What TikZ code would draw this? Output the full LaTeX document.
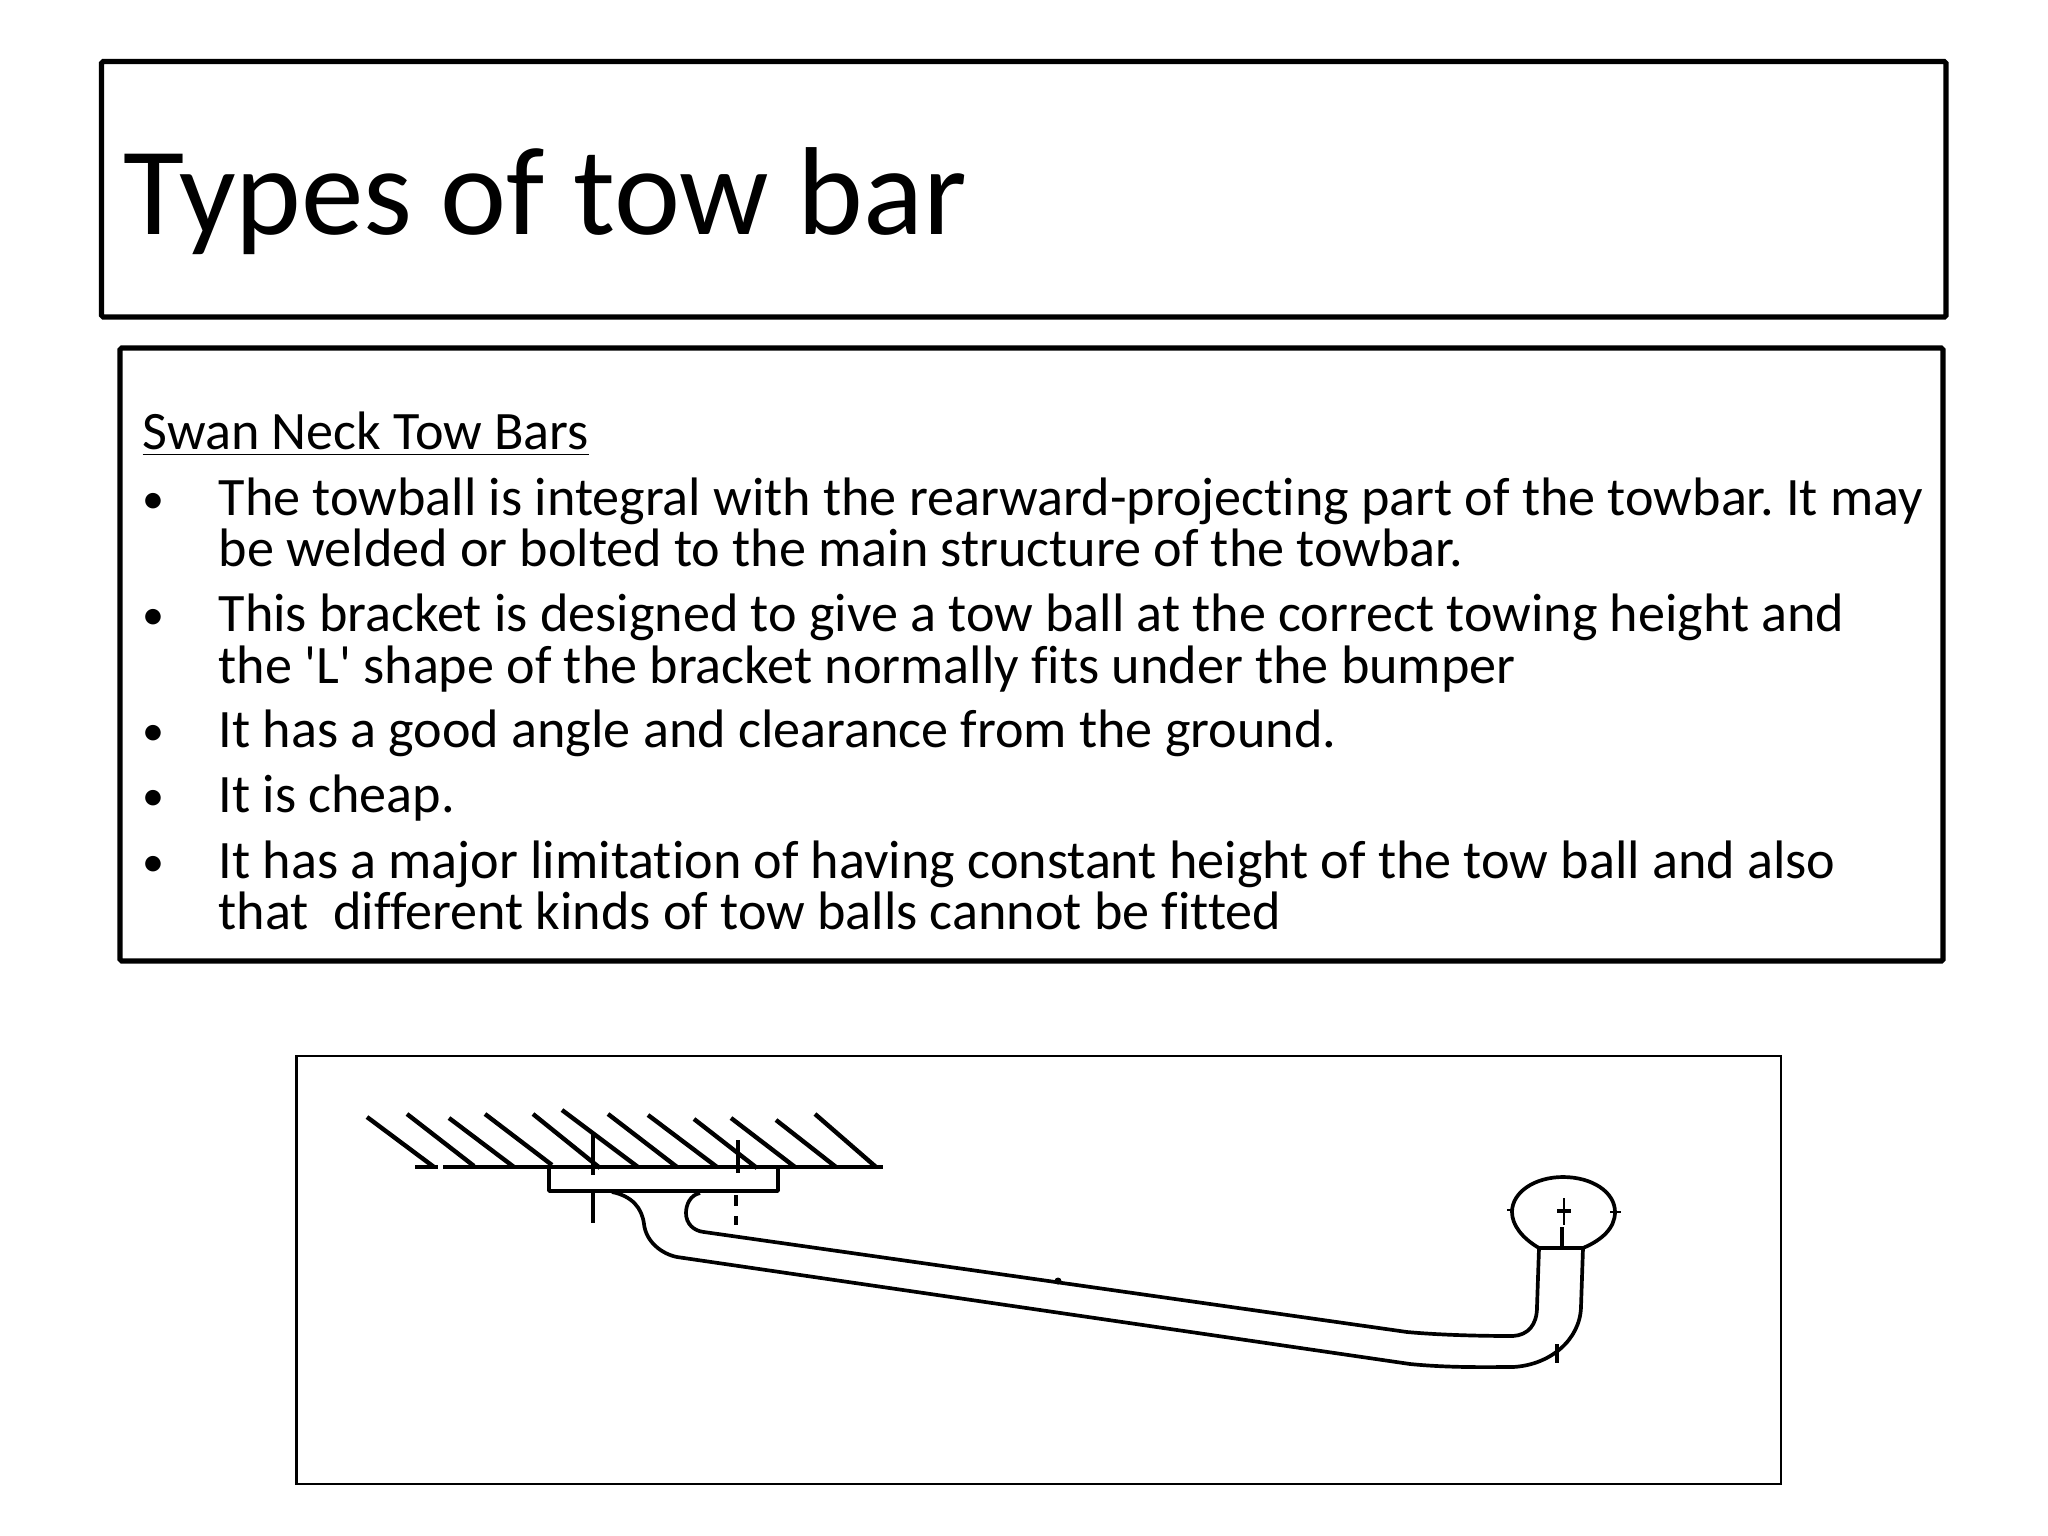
\documentclass[tikz,border=0pt]{standalone}
\usepackage{fontspec}
\setmainfont[Ligatures=CommonOff]{Carlito}

\begin{document}
\begin{tikzpicture}[x=0.01cm,y=-0.01cm]
  \tikzset{frame/.style = {draw=black,line width=1.5pt,rounded corners=0.5pt}}
  \tikzset{sketch/.style = {line width=1.05pt,line join=round}}
  \tikzset{hatchline/.style = {line width=1.25pt}}
  \tikzset{titleline/.style = {anchor=base west,inner sep=0pt,font=\fontsize{35.6}{36}\selectfont}}
  \tikzset{bodyline/.style = {anchor=base west,inner sep=0pt,font=\fontsize{15.4}{18}\selectfont\frenchspacing}}
  \tikzset{bulletmark/.style = {anchor=base west,inner sep=0pt,font=\fontsize{12.5}{18}\selectfont}}

\useasboundingbox (0,0) rectangle (2048,1536);

\draw[frame] (101.5,61.5) rectangle (1946,317);
\draw[frame] (120,348) rectangle (1943,961);
\draw[line width=0.75pt] (296.5,1056) rectangle (1781,1484);

\node[titleline] (heading) at (123,234) {Types of tow bar};

\node[bodyline] (swan) at (142,449) {\underline{Swan Neck Tow Bars}};
\node[bulletmark] (b1) at (142,513) {•};
\node[bodyline] (l1) at (218,515) {The towball is integral with the rearward-projecting part of the towbar. It may};
\node[bodyline] (l2) at (218,566) {be welded or bolted to the main structure of the towbar.};
\node[bulletmark] (b2) at (142,629) {•};
\node[bodyline] (l3) at (218,631) {This bracket is designed to give a tow ball at the correct towing height and};
\node[bodyline] (l4) at (218,683) {the \textquotesingle L\textquotesingle\ shape of the bracket normally fits under the bumper};
\node[bulletmark] (b3) at (142,745) {•};
\node[bodyline] (l5) at (218,747) {It has a good angle and clearance from the ground.};
\node[bulletmark] (b4) at (142,810) {•};
\node[bodyline] (l6) at (218,812) {It is cheap.};
\node[bulletmark] (b5) at (142,876) {•};
\node[bodyline] (l7) at (218,878) {It has a major limitation of having constant height of the tow ball and also};
\node[bodyline] (l8) at (218,929) {that\ \ different kinds of tow balls cannot be fitted};

% wall and hatching
\draw[sketch] (415,1167) -- (438,1167);
\draw[sketch] (443,1167) -- (883,1167);
\foreach \xa/\ya/\xb/\yb in {367/1117/434/1167,407/1114/474/1166,449/1118/514/1167,485/1114/552/1165,
  533/1114/600/1168,562/1110/638/1167,608/1114/677/1167,648/1115/717/1167,
  694/1119/757/1168,731/1118/795/1167,776/1120/836/1167,815/1114/876/1167}
  \draw[hatchline] (\xa,\ya) -- (\xb,\yb);

% bracket and bolts
\draw[sketch] (549,1167) -- (549,1191) -- (778,1191) -- (778,1167);
\draw[sketch] (593,1133) -- (593,1175);
\draw[sketch] (593,1190) -- (593,1223);
\draw[sketch] (738,1140) -- (738,1173);
\draw[sketch,dashed] (736,1195) -- (736,1225);

% arm
\draw[sketch] (612,1192) .. controls (632,1196) and (642,1208) .. (644,1224)
  .. controls (646,1242) and (662,1254) .. (677,1257)
  -- (1410,1364) .. controls (1450,1368) and (1490,1367) .. (1513,1367)
  .. controls (1550,1365) and (1580,1340) .. (1581,1307) -- (1583,1248);
\draw[sketch] (700,1193) .. controls (690,1195) and (686,1205) .. (686,1213)
  .. controls (686,1224) and (694,1231) .. (704,1232)
  -- (1407,1332) .. controls (1440,1335) and (1480,1336) .. (1513,1336)
  .. controls (1528,1335) and (1537,1325) .. (1537,1307) -- (1539,1248);
\draw[sketch] (1557,1344) -- (1557,1363);
\fill (1058,1281) circle (3.5);

% ball
\draw[sketch] (1539,1248) -- (1583,1248);
\draw[sketch] (1539,1248) .. controls (1522,1238) and (1512,1225) .. (1512,1212)
  .. controls (1512,1192) and (1535,1177) .. (1563,1177)
  .. controls (1592,1177) and (1615,1192) .. (1615,1212)
  .. controls (1615,1228) and (1602,1240) .. (1583,1248);
\draw[line width=0.7pt] (1564,1198) -- (1564,1225);
\draw[sketch] (1562,1227) -- (1562,1248);
\draw[line width=0.9pt] (1557,1211) -- (1571,1211);
\draw[line width=0.7pt] (1610,1212) -- (1621,1212);
\draw[line width=0.7pt] (1507,1210) -- (1513,1210);

\end{tikzpicture}
\end{document}
